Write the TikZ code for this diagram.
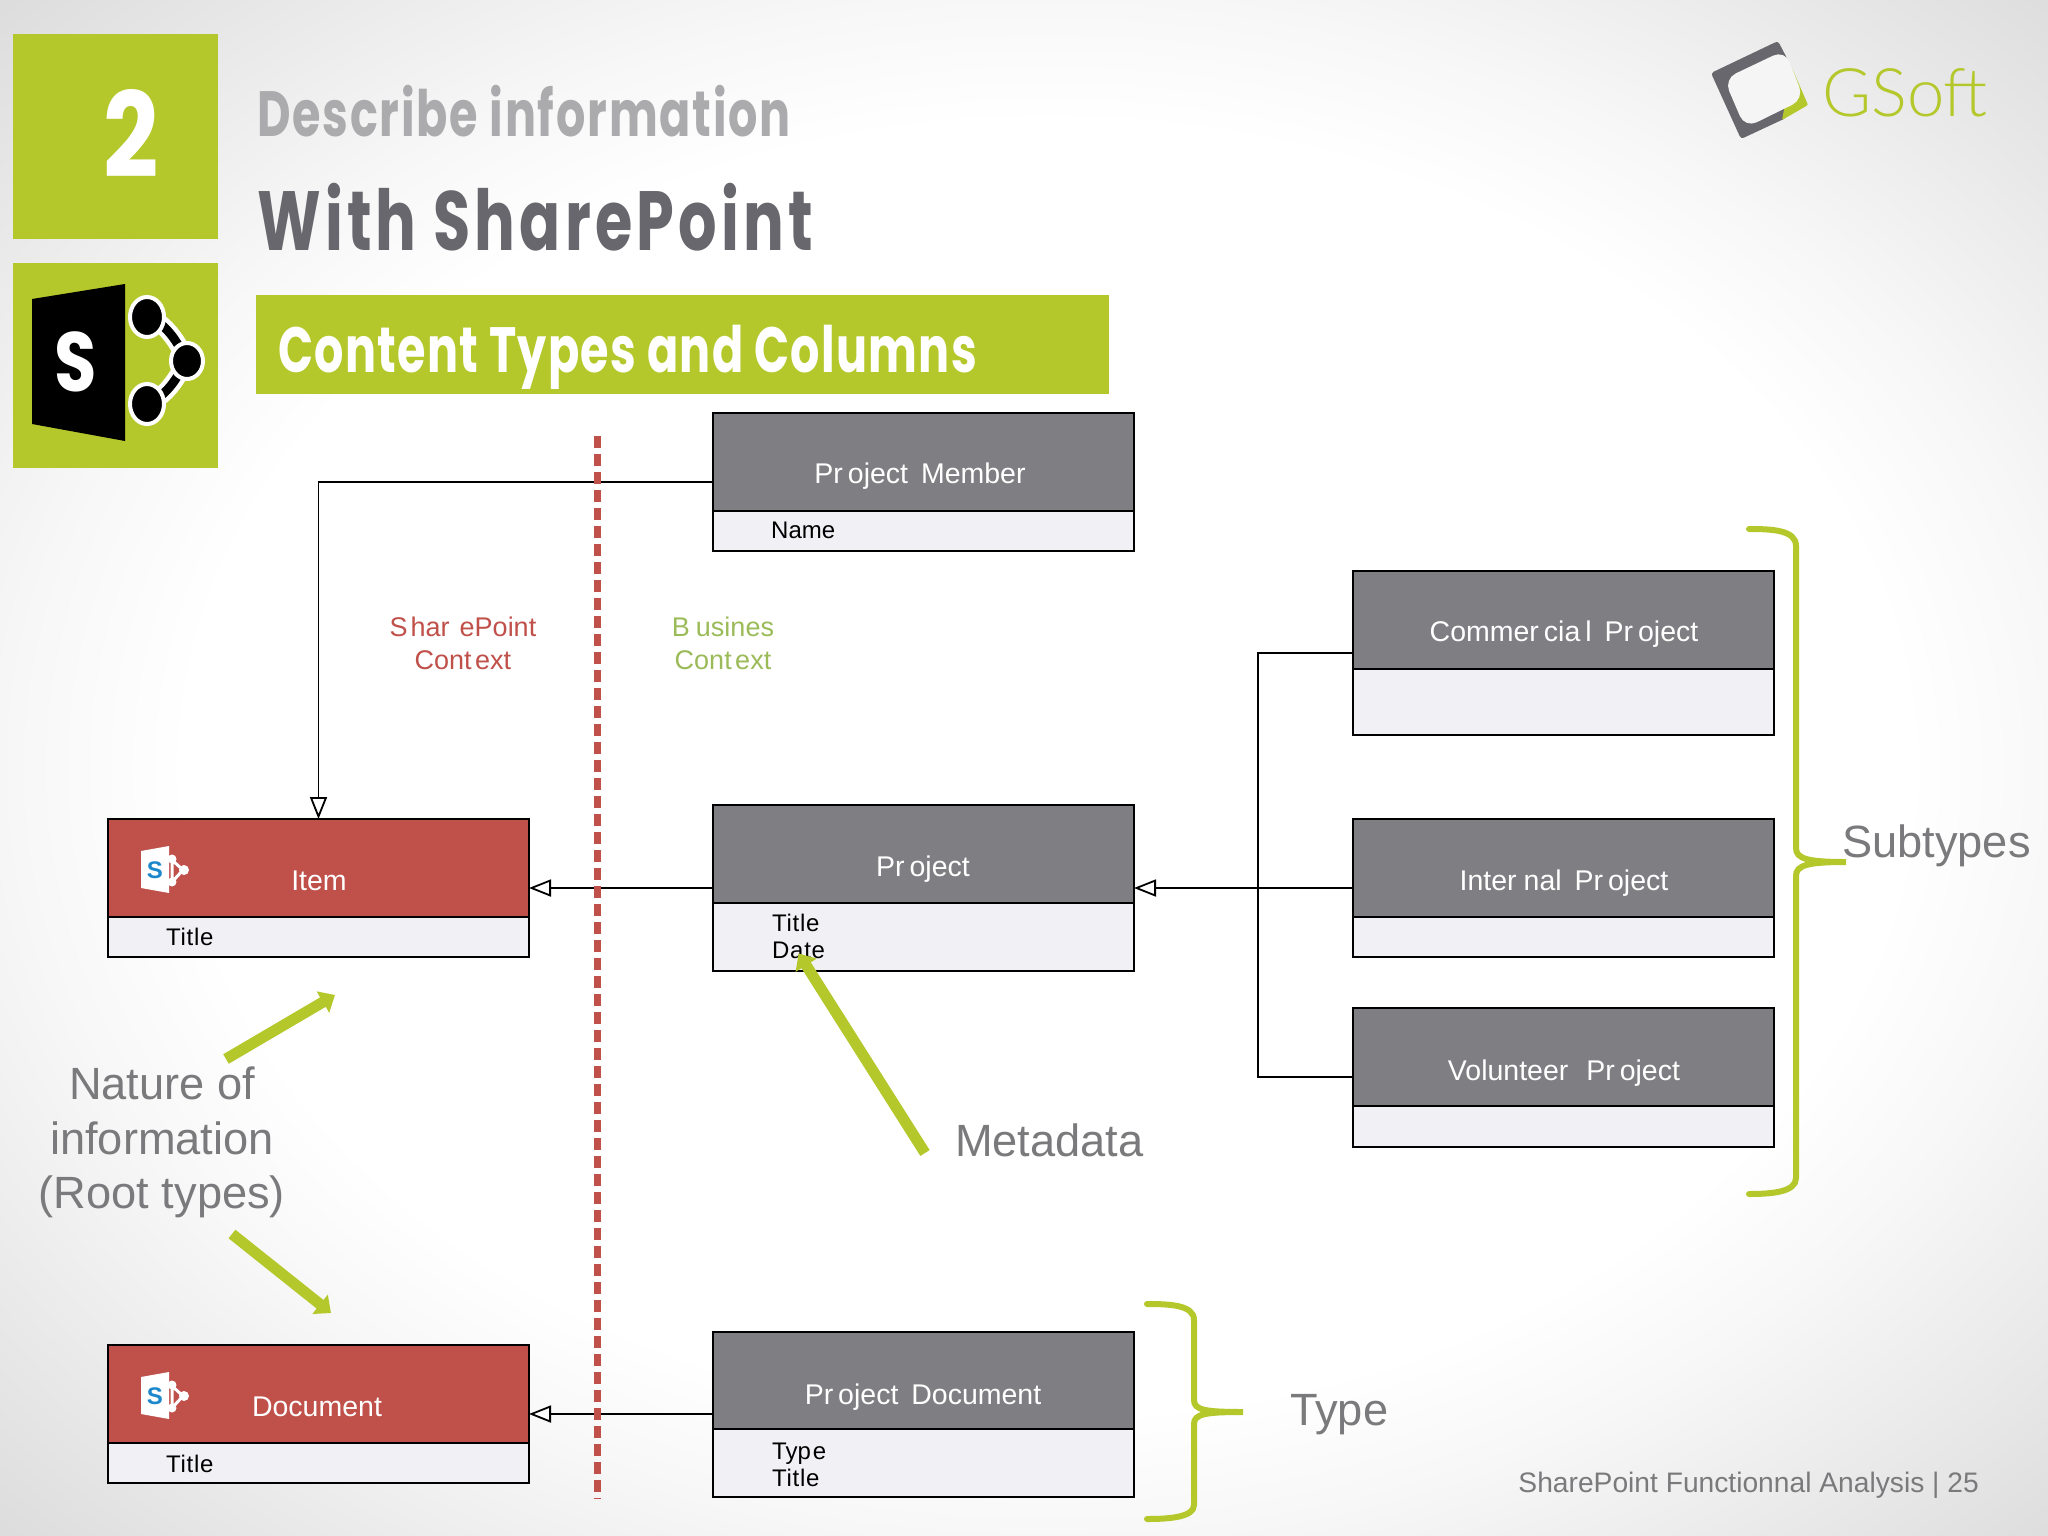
\documentclass[tikz,border=0pt]{standalone}
\usepackage{fontspec}
\setmainfont{Liberation Sans}
\newfontfamily\headfont[FakeStretch=0.72,LetterSpace=2.8]{Poppins Bold}
\newfontfamily\headfontb[FakeStretch=0.72,LetterSpace=5]{Poppins Bold}
\newfontfamily\headfontc[FakeStretch=0.72,LetterSpace=2]{Poppins Bold}
\newfontfamily\digitfont[FakeStretch=0.82]{Poppins Bold}
\newfontfamily\fieldfont[LetterSpace=3]{Liberation Sans}
\newfontfamily\logofont{Lato Light}
\usetikzlibrary{arrows.meta}
\definecolor{lime}{HTML}{B5C82B}
\definecolor{hdrgray}{HTML}{7F7E82}
\definecolor{bodygray}{HTML}{F1F0F4}
\definecolor{brick}{HTML}{C0504A}
\definecolor{labgray}{HTML}{7A7A7D}
\definecolor{titlegray}{HTML}{ABABAD}
\definecolor{darkhead}{HTML}{67676D}
\definecolor{ctxgreen}{HTML}{9BBB59}
\definecolor{spblue}{HTML}{1C87CB}
\newcommand\fs[1]{\fontsize{#1}{#1}\selectfont}
\newcommand\gp{\kern5pt\relax}
\pgfdeclareradialshading{slidebg}{\pgfpoint{1bp}{0bp}}{color(0bp)=(white);color(21bp)=(white);color(25bp)=(white!97!black);color(30bp)=(white!92!black);color(36bp)=(white!86!black);color(50bp)=(white!82!black)}
\tikzset{
  x=1pt,y=-1pt,
  hdr/.style={draw=black,line width=1.8pt,inner sep=0pt,outer sep=0pt,anchor=north west,minimum width=421pt},
  bodybox/.style={hdr,fill=bodygray},
  hdrtxt/.style={anchor=base,text=white,inner sep=0pt,font=\fs{28.5}},
  fieldtxt/.style={anchor=base west,text=black,inner sep=0pt,font=\fs{24}},
  spacedfield/.style={fieldtxt,font=\fieldfont\fs{24}},
  biglabel/.style={anchor=base,text=labgray,inner sep=0pt,font=\fs{45.2}},
  inh/.style={draw=black,line width=1.8pt,-{Triangle[fill=white,length=22pt,width=17pt,line width=1.8pt]}},
  plain/.style={draw=black,line width=1.8pt},
  bracket/.style={draw=lime,line width=6pt,line cap=round},
  greenarrow/.style={draw=lime,line width=11pt,-{Triangle[length=14pt,width=24pt]}},
  head/.style={anchor=base west,inner sep=0pt},
  ctx/.style={inner sep=0pt,anchor=base,font=\fs{27}},
}
\newcommand\classbox[6]{% name, x, ytop, ymid, ybot, fill
  \node[bodybox,minimum height=#5pt-#3pt] (#1b) at (#2,#3) {};
  \node[hdr,fill=#6,minimum height=#4pt-#3pt] (#1) at (#2,#3) {};
}
\newcommand\smallicon[1]{%
  \begin{scope}[shift={(0,#1)}]
    \fill[white] (141,851) -- (169,846) -- (169,893) -- (141,888) -- cycle;
    \draw[white,line width=3pt] (172,860) -- (183,870) -- (172,882) -- cycle;
    \fill[white] (172,859) circle (4.5) (184,870) circle (5) (172,882) circle (4.5);
    \node[inner sep=0pt,text=spblue,font=\fs{24}\bfseries] (sicon#1) at (155,870) {S};
  \end{scope}}
\begin{document}
\begin{tikzpicture}
\useasboundingbox (0,0) rectangle (2048,1536);
\shade[shading=slidebg] (0,0) rectangle (2048,1536);

% title blocks
\fill[lime] (13,34) rectangle (218,239);
\fill[lime] (13,263) rectangle (218,468);
\fill[lime] (256,295) rectangle (1109,394);
\node[head,text=white,font=\digitfont\fs{118}] (num) at (103,177) {2};
\node[head,text=titlegray,font=\headfont\fs{64}] (t1) at (257,137) {Describe information};
\node[head,text=darkhead,font=\headfontb\fs{84}] (t2) at (257,250) {With SharePoint};
\node[head,text=white,font=\headfontc\fs{64}] (t3) at (278,372) {Content Types and Columns};

% big SharePoint icon
\fill[black] (32,299) -- (125,284) -- (125,441) -- (32,424) -- cycle;
\node[inner sep=0pt,text=white,font=\digitfont\fs{84}] (bigs) at (76,362) {S};
\draw[white,line width=18pt] (146,316) .. controls (165,322) and (178,342) .. (186,360) .. controls (178,378) and (165,398) .. (146,404);
\draw[black,line width=9pt] (146,316) .. controls (165,322) and (178,342) .. (186,360) .. controls (178,378) and (165,398) .. (146,404);
\draw[white,line width=4pt,fill=black] (147,317) ellipse (17 and 20);
\draw[white,line width=4pt,fill=black] (187,361) ellipse (16 and 18);
\draw[white,line width=4pt,fill=black] (147,404) ellipse (17 and 20);

% logo
\fill[darkhead,rounded corners=3pt] (1778,41) -- (1711,73) -- (1741,139) -- (1786,118) -- (1792,68) -- cycle;
\fill[lime,rounded corners=1pt] (1792,68) -- (1808,105) -- (1782,120) -- cycle;
\fill[white!96!black,rounded corners=13pt] (1724,79) -- (1785,50) -- (1804,99) -- (1745,128) -- cycle;
\node[anchor=base west,inner sep=0pt,text=lime,font=\logofont\fs{67}] (gsoft) at (1822,117) {GSoft};

% classes
\classbox{pm}{713}{413}{511}{551}{hdrgray}
\classbox{com}{1353}{571}{669}{735}{hdrgray}
\classbox{int}{1353}{819}{917}{957}{hdrgray}
\classbox{vol}{1353}{1008}{1106}{1147}{hdrgray}
\classbox{proj}{713}{805}{903}{971}{hdrgray}
\classbox{item}{108}{819}{917}{957}{brick}
\classbox{doc}{108}{1345}{1443}{1483}{brick}
\classbox{pd}{713}{1332}{1429}{1497}{hdrgray}

\node[hdrtxt] (pmt) at (920,483) {Pr\gp oject\ \gp Member};
\node[hdrtxt] (comt) at (1564,641) {Commer\gp cia\gp l\ \gp Pr\gp oject};
\node[hdrtxt] (intt) at (1564,890) {Inter\gp\kern2pt nal\ \gp Pr\gp oject};
\node[hdrtxt] (volt) at (1564,1080) {Volunteer\ \gp\gp Pr\gp oject};
\node[hdrtxt] (projt) at (923,876) {Pr\gp oject};
\node[hdrtxt] (itemt) at (319,890) {Item};
\node[hdrtxt] (doct) at (317,1416) {Document};
\node[hdrtxt] (pdt) at (923,1404) {Pr\gp oject\ \gp Document};

\node[fieldtxt] (f1) at (771,538) {Name};
\node[spacedfield] (f2) at (772,931) {Title};
\node[spacedfield] (f3) at (772,958) {Date};
\node[spacedfield] (f4) at (166,945) {Title};
\node[spacedfield] (f5) at (166,1472) {Title};
\node[fieldtxt] (f6) at (772,1459) {Typ\kern2pt e};
\node[spacedfield] (f7) at (772,1486) {Title};

\smallicon{0}
\smallicon{526}

% connectors
\draw[inh] (pm.west |- 0,482) -| (item.north);
\draw[inh] (proj.west |- 0,888) -- (item.east |- 0,888);
\draw[inh] (pd.west |- 0,1414) -- (doc.east |- 0,1414);
\draw[inh] (int.west |- 0,888) -- (proj.east |- 0,888);
\draw[plain] (com.west |- 0,653) -| (1258,1077) -- (vol.west |- 0,1077);

% boundary
\draw[brick,line width=7pt,dash pattern=on 12pt off 6pt] (597,436) -- (597,1499);
\node[ctx,text=brick] (c1) at (463,636) {S\kern3pt har\kern10pt ePoint};
\node[ctx,text=brick] (c2) at (463,669) {Cont\kern3.5pt ext};
\node[ctx,text=ctxgreen] (c3) at (723,636) {B\kern6pt usines};
\node[ctx,text=ctxgreen] (c4) at (723,669) {Cont\kern3.5pt ext};

% green annotations
\draw[bracket] (1749,529) .. controls (1772,529) and (1796,530) .. (1796,546) -- (1796,848) .. controls (1796,859) and (1808,862) .. (1846,862) .. controls (1808,862) and (1796,865) .. (1796,876) -- (1796,1178) .. controls (1796,1192) and (1772,1194) .. (1749,1194);
\draw[bracket] (1147,1304) .. controls (1170,1304) and (1194,1305) .. (1194,1320) -- (1194,1400) .. controls (1194,1410) and (1205,1412) .. (1243,1412) .. controls (1205,1412) and (1194,1414) .. (1194,1424) -- (1194,1505) .. controls (1194,1517) and (1170,1519) .. (1147,1519);
\node[biglabel,anchor=base west] (sub) at (1842,857) {Subtypes};
\node[biglabel,anchor=base west] (typ) at (1290,1425) {Type};
\node[biglabel,anchor=base west] (met) at (955,1156) {Metadata};
\node[biglabel] (n1) at (162,1099) {Nature of};
\node[biglabel] (n2) at (162,1154) {information};
\node[biglabel] (n3) at (162,1208) {(Root types)};
\coordinate (aup) at (226,1059);
\coordinate (adn) at (232,1234);
\coordinate (metf) at (925,1153);
\draw[greenarrow] (aup) -- (335,995);
\draw[greenarrow] (adn) -- (331,1313);
\draw[greenarrow] (metf) -- ([yshift=5pt]f3.south);
\node[anchor=base east,inner sep=0pt,text=labgray,font=\fs{28.2}] (foot) at (1979,1492) {SharePoint Functionnal Analysis | 25};
\end{tikzpicture}
\end{document}
